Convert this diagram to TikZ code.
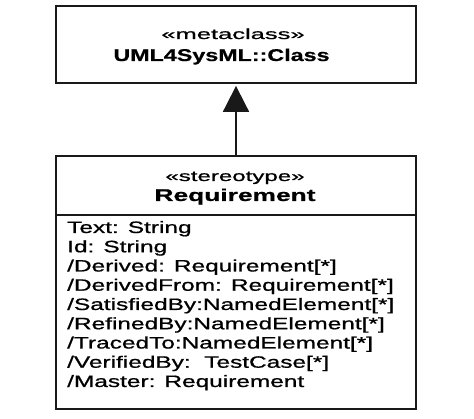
\documentclass[tikz,border=0pt]{standalone}
\usepackage{fontspec}
\setmainfont{Liberation Sans}
\newfontfamily\heavyfont[FakeBold=0.7]{Liberation Sans}
\newfontfamily\boldheavy[FakeBold=0.6]{Liberation Sans Bold}
\usepackage{graphicx}
\usetikzlibrary{arrows.meta}
\newcommand\hstr[2]{\scalebox{#1}[1]{#2}}
\begin{document}
\begin{tikzpicture}[x=1pt,y=-1pt,
  classbox/.style={draw=black!90, line width=1.8pt, fill=white, inner sep=0pt, rectangle},
  sepline/.style={draw=black!90, line width=1.8pt},
  gen/.style={draw=black!90, line width=1.8pt, -{Triangle[length=26pt,width=26pt]}, shorten >=2pt},
  stereo/.style={inner sep=0pt, anchor=base, text=black, font=\heavyfont\fontsize{14.5}{17}\selectfont},
  cname/.style={inner sep=0pt, anchor=base, text=black, font=\boldheavy\fontsize{17}{20}\selectfont},
  attr/.style={inner sep=0pt, anchor=base west, text=black, font=\heavyfont\fontsize{16.5}{19}\selectfont}]
\useasboundingbox (0,0) rectangle (474,419);
\fill[white] (0,0) rectangle (474,419);
% boxes
\node[classbox, minimum width=360pt, minimum height=77pt] (meta) at (236,44.5) {};
\node[classbox, minimum width=360pt, minimum height=253pt] (req) at (236,282.5) {};
\coordinate (dl) at (56,215);
\coordinate (dr) at (416,215);
\draw[sepline] (dl) -- (dr);
% generalization arrow
\draw[gen] (req.north) -- (meta.south);
% metaclass texts
\node[stereo] (mst) at (233,39) {\hstr{1.76}{«metaclass»}};
\node[cname] (mname) at (221.5,61) {\hstr{1.37}{UML4SysML::Class}};
% stereotype texts
\node[stereo] (rst) at (235,181) {\hstr{1.66}{«stereotype»}};
\node[cname] (rname) at (235,201) {\hstr{1.55}{Requirement}};
% attributes
\node[attr] (a1) at (67,233) {\hstr{1.48}{Text: String}};
\node[attr] (a2) at (67,252.25) {\hstr{1.48}{Id: String}};
\node[attr] (a3) at (67,271.5) {\hstr{1.48}{/Derived: Requirement[*]}};
\node[attr] (a4) at (67,290.75) {\hstr{1.48}{/DerivedFrom: Requirement[*]}};
\node[attr] (a5) at (67,310) {\hstr{1.48}{/SatisfiedBy:NamedElement[*]}};
\node[attr] (a6) at (67,329.25) {\hstr{1.48}{/RefinedBy:NamedElement[*]}};
\node[attr] (a7) at (67,348.5) {\hstr{1.48}{/TracedTo:NamedElement[*]}};
\node[attr] (a8) at (67,367.75) {\hstr{1.48}{/VerifiedBy:\ \ TestCase[*]}};
\node[attr] (a9) at (67,387) {\hstr{1.48}{/Master: Requirement}};
\end{tikzpicture}
\end{document}
